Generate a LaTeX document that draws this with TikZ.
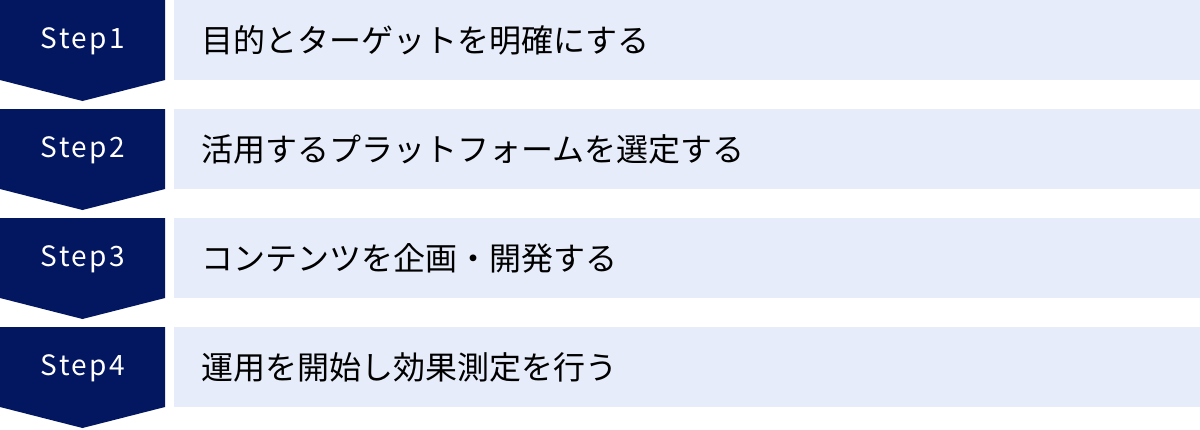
\documentclass[tikz,border=0pt]{standalone}
\usepackage{fontspec}
\newfontfamily\jpfont{Noto Sans CJK JP}
\newfontfamily\stepfont[LetterSpace=9]{Noto Sans CJK JP}
\usetikzlibrary{positioning}
\definecolor{stepnavy}{RGB}{3,22,96}
\definecolor{taskblue}{RGB}{230,236,249}
\tikzset{
x=1pt, y=-1pt, % one unit is one pixel of the reference, y runs downwards
steplabel/.style={text=white, inner sep=0pt, font=\stepfont\fontsize{28}{30}\selectfont}, % white step names
tasklabel/.style={anchor=west, inner sep=0pt, text=black, font=\jpfont\fontsize{32}{36}\selectfont}, % task texts
}

\begin{document}
\begin{tikzpicture}
        \useasboundingbox (0,0) rectangle (1200,429);
        \foreach \i/\task in {1/目的とターゲットを明確にする,
                              2/活用するプラットフォームを選定する,
                              3/コンテンツを企画・開発する,
                              4/運用を開始し効果測定を行う}
        {
          \pgfmathsetmacro\top{109*(\i-1)}
          \fill[stepnavy] (0,\top) -- ++(165,0) -- ++(0,80) -- ++(-82.5,21) -- ++(-82.5,-21) -- cycle;
          \fill[taskblue] (174,\top) rectangle ++(1026,80);
          \node[steplabel] (step\i) at (83,\top+41) {Step\i};
          \node[tasklabel] (task\i) at (201,\top+40) {\task};
        }
      \end{tikzpicture}
\end{document}
